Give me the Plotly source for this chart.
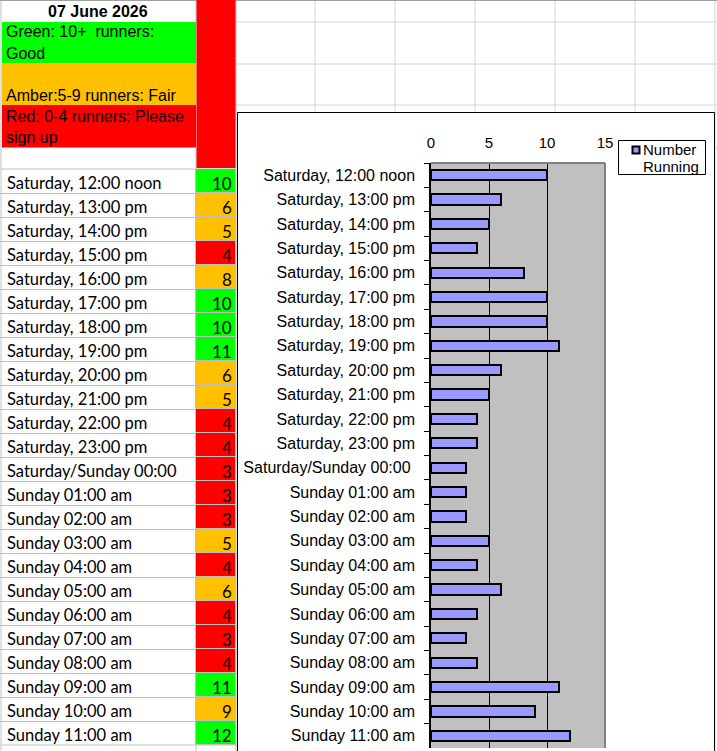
import plotly.graph_objects as go

# ---------------- data ----------------
slots = [
    "Saturday, 12:00 noon", "Saturday, 13:00 pm", "Saturday, 14:00 pm", "Saturday, 15:00 pm",
    "Saturday, 16:00 pm", "Saturday, 17:00 pm", "Saturday, 18:00 pm", "Saturday, 19:00 pm",
    "Saturday, 20:00 pm", "Saturday, 21:00 pm", "Saturday, 22:00 pm", "Saturday, 23:00 pm",
    "Saturday/Sunday 00:00\u00a0", "Sunday 01:00 am", "Sunday 02:00 am", "Sunday 03:00 am",
    "Sunday 04:00 am", "Sunday 05:00 am", "Sunday 06:00 am", "Sunday 07:00 am",
    "Sunday 08:00 am", "Sunday 09:00 am", "Sunday 10:00 am", "Sunday 11:00 am",
]
runners = [10, 6, 5, 4, 8, 10, 10, 11, 6, 5, 4, 4, 3, 3, 3, 5, 4, 6, 4, 3, 4, 11, 9, 12]
x_ticks = [0, 5, 10, 15]
title_text = "07 June 2026"
legend_lines = ["Number", "Running"]

GREEN, AMBER, RED = "#00ff00", "#ffc000", "#ff0000"
BAR_FILL = "#9999ff"


def status_colour(v):
    if v >= 10:
        return GREEN
    if v >= 5:
        return AMBER
    return RED


W, H = 717, 751


def X(px):
    return px / W


def Y(py):
    return 1 - py / H


GRID = "#d4d4d4"
TGRID = "#c0c0c0"
ARIAL = "Liberation Sans, Arial"
n = len(slots)

fig = go.Figure()

# ---------------- chart ----------------
fig.add_trace(go.Bar(
    x=runners, y=slots, orientation="h", name="Number Running",
    marker=dict(color=BAR_FILL, line=dict(color="black", width=2)),
    width=0.42, xaxis="x", yaxis="y", hoverinfo="x+y", showlegend=False,
))

# ---------------- table (value cells) ----------------
fig.add_trace(go.Bar(
    x=[40] * n, base=[196] * n, y=slots, orientation="h",
    width=1, marker=dict(color=[status_colour(v) for v in runners], line=dict(color=TGRID, width=1)),
    xaxis="x3", yaxis="y3", showlegend=False, hoverinfo="skip",
))

shapes = []
# spreadsheet grid to the right
for gx in [315, 395, 475, 555, 635, 715]:
    shapes.append(dict(type="line", xref="paper", yref="paper", x0=X(gx), x1=X(gx), y0=Y(0), y1=Y(751),
                       line=dict(color=GRID, width=1), layer="below"))
for gy in [22, 64, 105, 148]:
    shapes.append(dict(type="line", xref="paper", yref="paper", x0=X(236), x1=X(717), y0=Y(gy), y1=Y(gy),
                       line=dict(color=GRID, width=1), layer="below"))
# table verticals & top border
for gx in [1, 196, 236]:
    shapes.append(dict(type="line", xref="paper", yref="paper", x0=X(gx), x1=X(gx), y0=Y(0), y1=Y(751),
                       line=dict(color=TGRID, width=1), layer="below"))
shapes.append(dict(type="line", xref="paper", yref="paper", x0=0, x1=1, y0=Y(0.5), y1=Y(0.5),
                   line=dict(color="#a0a0a0", width=1), layer="below"))
# header cells
shapes.append(dict(type="rect", xref="paper", yref="paper", x0=X(2), x1=X(196), y0=Y(22), y1=Y(63.5),
                   fillcolor=GREEN, line=dict(width=0), layer="below"))
shapes.append(dict(type="rect", xref="paper", yref="paper", x0=X(2), x1=X(196), y0=Y(63.5), y1=Y(105),
                   fillcolor=AMBER, line=dict(width=0), layer="below"))
shapes.append(dict(type="rect", xref="paper", yref="paper", x0=X(2), x1=X(196), y0=Y(105), y1=Y(147.5),
                   fillcolor=RED, line=dict(width=0), layer="below"))
shapes.append(dict(type="rect", xref="paper", yref="paper", x0=X(196.5), x1=X(235.5), y0=Y(0), y1=Y(168),
                   fillcolor=RED, line=dict(width=0), layer="below"))
# table row boundaries top/bottom
for yy in [0, 1]:
    shapes.append(dict(type="line", xref="paper", yref="y3 domain", x0=X(1), x1=X(236), y0=yy, y1=yy,
                       line=dict(color=TGRID, width=1), layer="below"))
# chart box
shapes.append(dict(type="rect", xref="paper", yref="paper", x0=X(237.5), x1=X(714.5), y0=Y(112.5), y1=Y(760),
                   fillcolor="white", line=dict(color="black", width=1), layer="below"))
# plot area
shapes.append(dict(type="rect", xref="x domain", yref="y domain", x0=0, x1=1, y0=0, y1=1,
                   fillcolor="#c0c0c0", line=dict(width=0), layer="below"))
shapes.append(dict(type="line", xref="x domain", yref="y domain", x0=0, x1=1, y0=1, y1=1,
                   line=dict(color="#808080", width=2), layer="above"))
shapes.append(dict(type="line", xref="x domain", yref="y domain", x0=1, x1=1, y0=0, y1=1,
                   line=dict(color="#808080", width=2), layer="above"))
# legend box + key
shapes.append(dict(type="rect", xref="paper", yref="paper", x0=X(618.5), x1=X(705.5), y0=Y(140.5), y1=Y(174.5),
                   fillcolor="white", line=dict(color="black", width=1), layer="above"))
shapes.append(dict(type="rect", xref="paper", yref="paper", x0=X(632.5), x1=X(639.5), y0=Y(146.5), y1=Y(153.5),
                   fillcolor=BAR_FILL, line=dict(color="black", width=2), layer="above"))

HFONT = dict(family=ARIAL, size=16, color="black")
annotations = [
    dict(text="<b>" + title_text + "</b>", x=X(98), y=Y(12), xref="paper", yref="paper",
         showarrow=False, font=HFONT, xanchor="center", yanchor="middle"),
    dict(text="Green: 10+\u00a0 runners:", x=X(4), y=Y(32), xref="paper", yref="paper",
         showarrow=False, font=HFONT, xanchor="left", yanchor="middle"),
    dict(text="Good", x=X(4), y=Y(54), xref="paper", yref="paper",
         showarrow=False, font=HFONT, xanchor="left", yanchor="middle"),
    dict(text="Amber:5-9 runners: Fair", x=X(4), y=Y(95), xref="paper", yref="paper",
         showarrow=False, font=HFONT, xanchor="left", yanchor="middle"),
    dict(text="Red: 0-4 runners: Please", x=X(4), y=Y(116), xref="paper", yref="paper",
         showarrow=False, font=HFONT, xanchor="left", yanchor="middle"),
    dict(text="sign up", x=X(4), y=Y(137), xref="paper", yref="paper",
         showarrow=False, font=HFONT, xanchor="left", yanchor="middle"),
    dict(text=legend_lines[0], x=X(641), y=Y(150), xref="paper", yref="paper",
         showarrow=False, font=dict(family=ARIAL, size=15, color="black"), xanchor="left", yanchor="middle"),
    dict(text=legend_lines[1], x=X(641), y=Y(166), xref="paper", yref="paper",
         showarrow=False, font=dict(family=ARIAL, size=15, color="black"), xanchor="left", yanchor="middle"),
]
# table row labels and values, placed on the table's own category axis
TFONT = dict(family="Lato", size=16.5, color="black")
for s, v in zip(slots, runners):
    annotations.append(dict(text=s.strip(), x=5, y=s, xref="x3", yref="y3", showarrow=False,
                            font=TFONT, xanchor="left", yanchor="middle", yshift=-2))
    annotations.append(dict(text=str(v), x=234, y=s, xref="x3", yref="y3", showarrow=False,
                            font=dict(family="Lato", size=17, color="black"), xanchor="right",
                            yanchor="middle", yshift=-2))

fig.update_layout(
    width=W, height=H, autosize=False, margin=dict(l=0, r=0, t=0, b=0, pad=0),
    paper_bgcolor="white", plot_bgcolor="rgba(0,0,0,0)",
    font=dict(family=ARIAL, color="black"),
    showlegend=False,
    xaxis=dict(domain=[X(431), X(605)], range=[0, 15], side="top", tickvals=x_ticks,
               showgrid=True, gridcolor="black", gridwidth=1, zeroline=False, showline=False,
               ticks="", tickfont=dict(family=ARIAL, size=15), anchor="y",
               ticklabelstandoff=11, fixedrange=True, automargin=False),
    yaxis=dict(domain=[Y(748), Y(163)], type="category", autorange="reversed", tickson="boundaries",
               ticks="outside", ticklen=5, tickcolor="black", tickwidth=1, showline=True,
               linecolor="black", linewidth=1.5, showgrid=False, anchor="x",
               tickfont=dict(family=ARIAL, size=16), ticklabelstandoff=11,
               fixedrange=True, automargin=False),
    xaxis3=dict(domain=[0, X(237)], range=[0, 237], showgrid=False, zeroline=False, showline=False,
                showticklabels=False, ticks="", anchor="y3", fixedrange=True, automargin=False),
    yaxis3=dict(domain=[Y(745), Y(169)], type="category", range=[n - 0.5, -0.5], tickson="boundaries",
                showgrid=True, gridcolor=TGRID, gridwidth=1, showticklabels=False, ticks="",
                zeroline=False, showline=False, anchor="x3", fixedrange=True, automargin=False),
    shapes=shapes, annotations=annotations, bargap=0,
)

fig.write_html("out.html", config={"responsive": False})
